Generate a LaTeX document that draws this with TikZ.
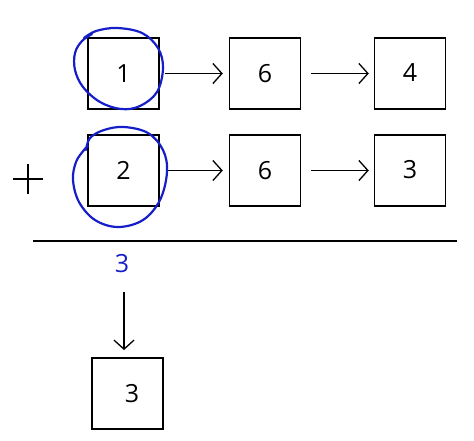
\documentclass[tikz,border=0pt]{standalone}
\usepackage{fontspec}
\setmainfont{Open Sans}
\usetikzlibrary{arrows.meta}
\definecolor{penblue}{RGB}{22,30,200}
\tikzset{
  numbox/.style={draw=black, line width=1.4pt, minimum width=71pt, minimum height=71pt, inner sep=0pt, font=\fontsize{25}{30}\selectfont, text=black},
  arr/.style={line width=1.3pt, -{Straight Barb[length=9pt,width=20pt,line width=1.3pt]}},
  rule/.style={line width=1.6pt},
  ink/.style={draw=penblue, line width=2.2pt, line cap=round, line join=round},
}
\begin{document}
\begin{tikzpicture}[x=1pt,y=-1pt]
\useasboundingbox (0,0) rectangle (474,440);
% top row
\node[numbox] (a1) at (123.5,73.5) {1};
\node[numbox] (a2) at (265,73.5) {6};
\node[numbox] (a3) at (410,73.5) {\raisebox{2pt}{4}};
% second row
\node[numbox] (b1) at (123.5,170.5) {2};
\node[numbox] (b2) at (265,170.5) {6};
\node[numbox] (b3) at (410,170.5) {\raisebox{2pt}{3}};
% arrows
\draw[arr, shorten <=5pt, shorten >=6pt] (a1) -- (a2);
\draw[arr, shorten <=10pt, shorten >=5pt] (a2) -- (a3);
\draw[arr, shorten <=6pt, shorten >=6pt] (b1) -- (b2);
\draw[arr, shorten <=10pt, shorten >=5pt] (b2) -- (b3);
% plus sign
\coordinate (pl) at (13,179);
\coordinate (pr) at (43,179);
\coordinate (pt) at (28,164);
\coordinate (pb) at (28,194);
\draw[line width=1.3pt] (pl) -- (pr);
\draw[line width=1.3pt] (pt) -- (pb);
% rule
\coordinate (rl) at (33,241);
\coordinate (rr) at (457,241);
\draw[rule] (rl) -- (rr);
% result
\node[text=penblue, font=\fontsize{25}{30}\selectfont, inner sep=0pt] (res) at (122,264) {3};
\node[numbox] (c1) at (127.5,393.5) {\hspace*{9pt}3};
\coordinate (dtop) at (124,292);
\coordinate (dbot) at (124,350);
\draw[arr] (dtop) -- (dbot);
% blue hand-drawn circles
\draw[ink] plot[smooth, tension=0.6] coordinates {
  (84,38) (96,31) (117,28) (142,33) (158,48) (163,68) (157,92) (140,106) (121,109)
  (100,102) (83,87) (75,70) (75,53) (82,41) (92,34)};
\draw[ink] plot[smooth, tension=0.6] coordinates {
  (86,150) (90,138) (104,130) (124,127) (148,133) (163,150) (167,172) (160,200)
  (143,220) (118,227) (95,220) (79,202) (73,180) (76,162) (84,150) (88,146)};
\end{tikzpicture}
\end{document}
